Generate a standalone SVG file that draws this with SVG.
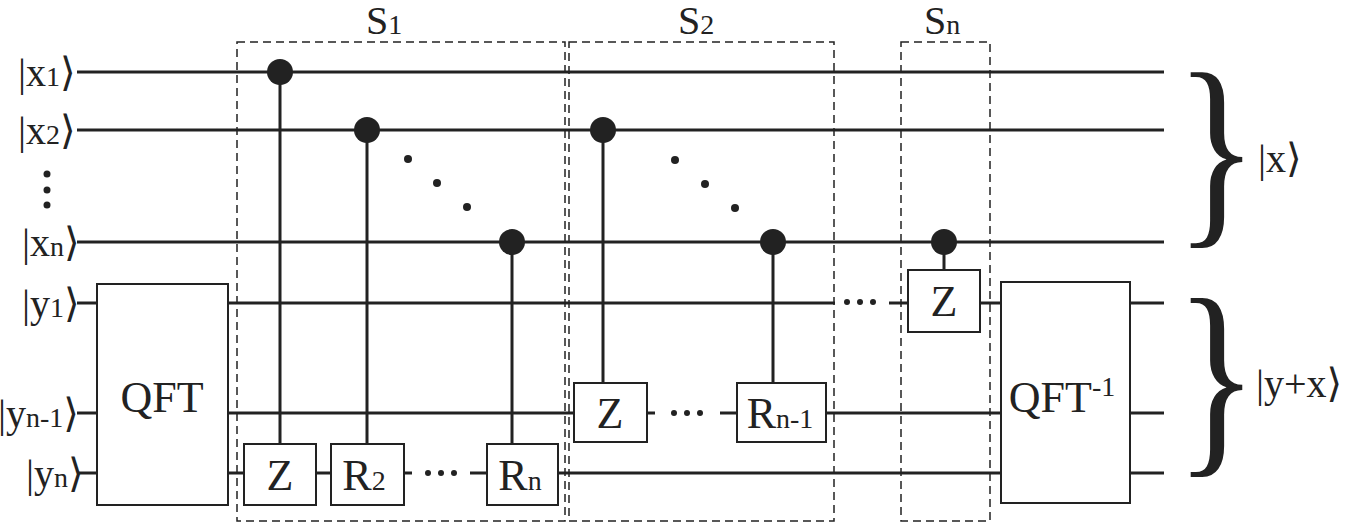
<svg xmlns="http://www.w3.org/2000/svg" width="1354" height="524" viewBox="0 0 1354 524">
<style>
.w{stroke:#222;stroke-width:3;fill:none}
.b{fill:#fff;stroke:#222;stroke-width:2}
.d{fill:none;stroke:#222;stroke-width:1.5;stroke-dasharray:8,5}
.t{font-family:"Liberation Serif","DejaVu Serif",serif;fill:#222}
.k{font-size:40px}
.s{font-size:28px}
.g{font-size:44px;text-anchor:middle}
.c{fill:#222}
</style>
<rect width="1354" height="524" fill="#fff"/>
<g id="connectors">
<path class="w" d="M77 72H1164M77 130H1164M77 242H1164M77 303H97M228 303H835M889 303H908M980 303H1001M1130 303H1164M77 413H97M228 413H574M647 413H655M720 413H737M826 413H1001M1130 413H1164M77 473H97M228 473H244M316 473H331M404 473H412M470 473H487M558 473H1001M1130 473H1164"/>
<path class="w" d="M280 72V444M367 130V444M512 242V444M603 130V383M773 242V383M944 242V270"/>
</g>
<g id="dots">
<circle class="c" cx="280" cy="72" r="13"/><circle class="c" cx="367" cy="130" r="13"/><circle class="c" cx="512" cy="242" r="13"/>
<circle class="c" cx="603" cy="130" r="13"/><circle class="c" cx="773" cy="242" r="13"/><circle class="c" cx="944" cy="242" r="13"/>
<circle class="c" cx="408" cy="159" r="4"/><circle class="c" cx="437" cy="183" r="4"/><circle class="c" cx="467" cy="207" r="4"/>
<circle class="c" cx="675" cy="160" r="4"/><circle class="c" cx="705" cy="184" r="4"/><circle class="c" cx="735" cy="208" r="4"/>
<circle class="c" cx="47" cy="174" r="3.5"/><circle class="c" cx="47" cy="190" r="3.5"/><circle class="c" cx="47" cy="205" r="3.5"/>
<circle class="c" cx="428" cy="473" r="3"/><circle class="c" cx="441" cy="473" r="3"/><circle class="c" cx="454" cy="473" r="3"/>
<circle class="c" cx="674" cy="413" r="3"/><circle class="c" cx="687" cy="413" r="3"/><circle class="c" cx="700" cy="413" r="3"/>
<circle class="c" cx="847" cy="302" r="3"/><circle class="c" cx="860" cy="302" r="3"/><circle class="c" cx="873" cy="302" r="3"/>
</g>
<g id="S1"><rect class="d" x="237" y="42" width="328" height="479"/><text class="t k" x="366" y="34">S<tspan class="s">1</tspan></text></g>
<g id="S2"><rect class="d" x="569" y="42" width="265" height="479"/><text class="t k" x="678" y="34">S<tspan class="s">2</tspan></text></g>
<g id="Sn"><rect class="d" x="901" y="42" width="89" height="479"/><text class="t k" x="924" y="34">S<tspan class="s">n</tspan></text></g>
<g id="QFT"><rect class="b" x="97" y="284" width="131" height="221"/><text class="t g" x="162" y="412">QFT</text></g>
<g id="QFTinv"><rect class="b" x="1001" y="282" width="129" height="221"/><text class="t g" x="1062" y="412">QFT<tspan class="s" dy="-16">-1</tspan></text></g>
<g id="Z1"><rect class="b" x="244" y="444" width="72" height="61"/><text class="t g" x="280" y="490">Z</text></g>
<g id="R2"><rect class="b" x="331" y="444" width="73" height="61"/><text class="t g" x="364" y="490">R<tspan class="s">2</tspan></text></g>
<g id="Rn"><rect class="b" x="487" y="444" width="71" height="61"/><text class="t g" x="520" y="490">R<tspan class="s">n</tspan></text></g>
<g id="Z2"><rect class="b" x="574" y="383" width="73" height="59"/><text class="t g" x="610" y="428">Z</text></g>
<g id="Rn1"><rect class="b" x="737" y="383" width="89" height="59"/><text class="t g" x="780" y="428">R<tspan class="s">n-1</tspan></text></g>
<g id="Zn"><rect class="b" x="908" y="270" width="72" height="62"/><text class="t g" x="944" y="316">Z</text></g>
<g id="labels">
<text class="t k" x="18" y="86">|x<tspan class="s">1</tspan>⟩</text>
<text class="t k" x="18" y="144">|x<tspan class="s">2</tspan>⟩</text>
<text class="t k" x="22" y="256">|x<tspan class="s">n</tspan>⟩</text>
<text class="t k" x="22" y="317">|y<tspan class="s">1</tspan>⟩</text>
<text class="t k" x="-2" y="427">|y<tspan class="s">n-1</tspan>⟩</text>
<text class="t k" x="26" y="487">|y<tspan class="s">n</tspan>⟩</text>
<text class="t k" x="1258" y="172">|x⟩</text>
<text class="t k" x="1256" y="397">|y+x⟩</text>
<text class="t" font-size="240" transform="translate(1175,220) scale(0.72,0.88)">}</text>
<text class="t" font-size="240" transform="translate(1175,448) scale(0.72,0.9)">}</text>
</g>
</svg>
